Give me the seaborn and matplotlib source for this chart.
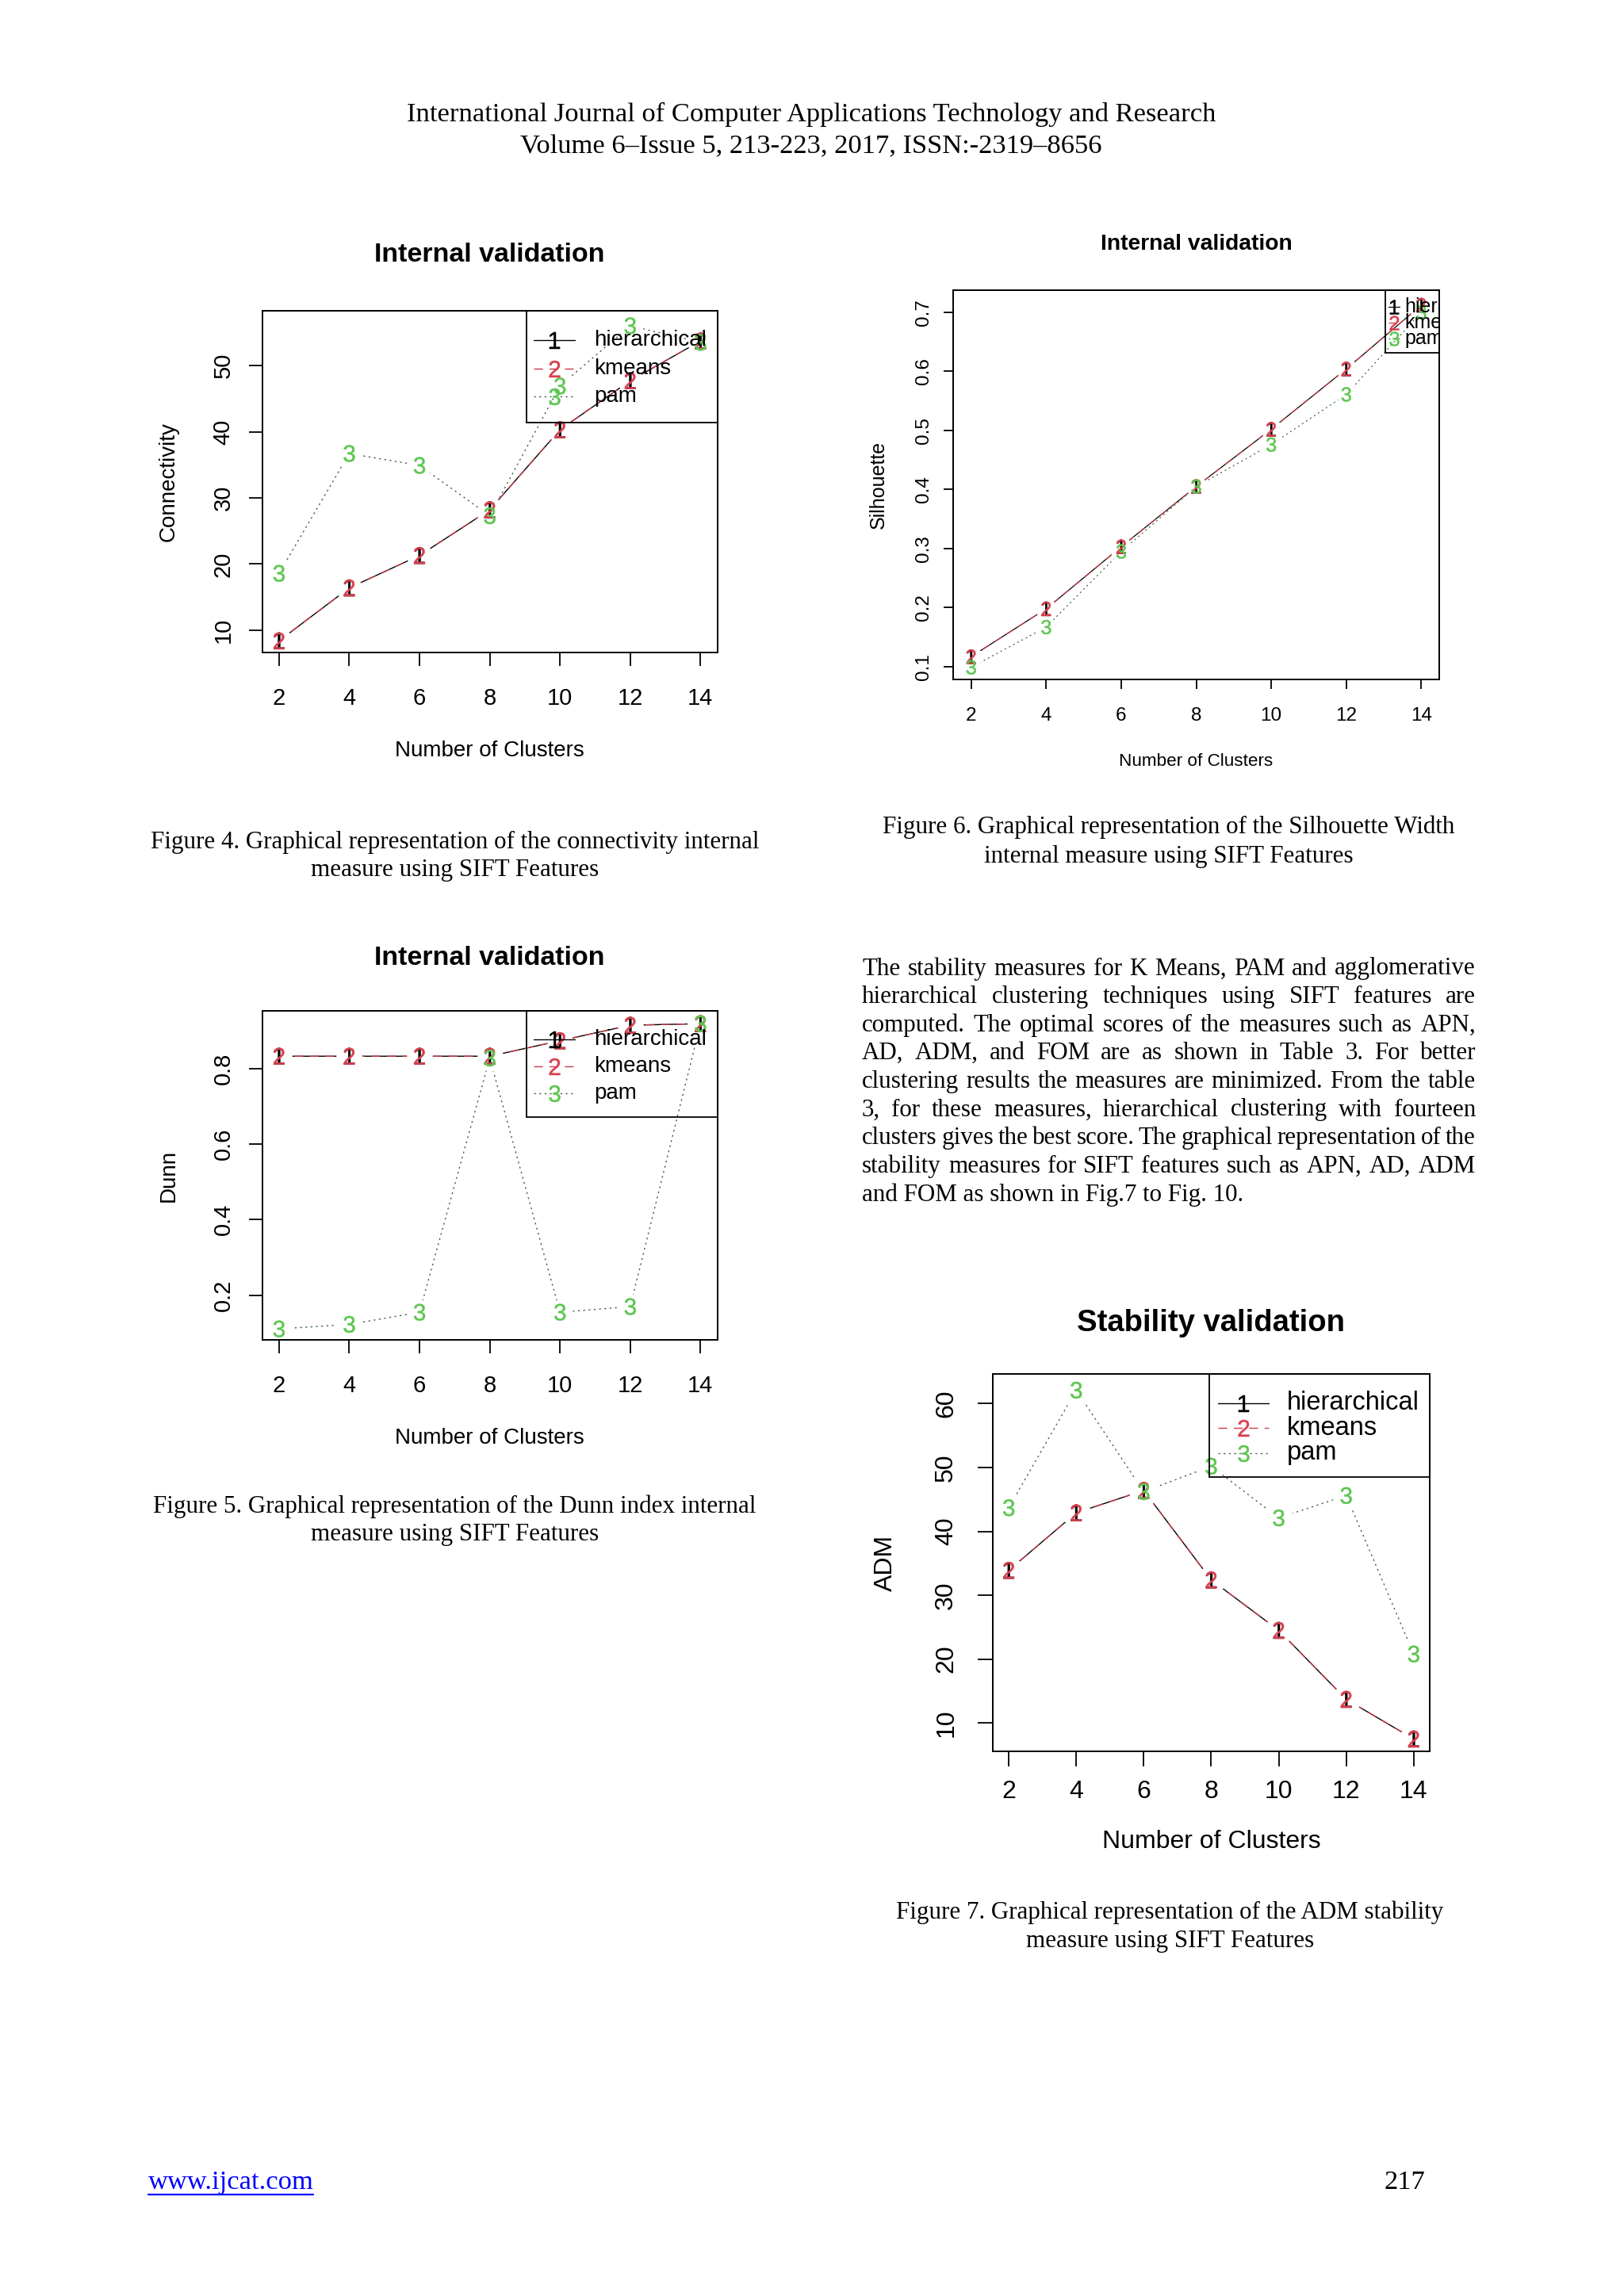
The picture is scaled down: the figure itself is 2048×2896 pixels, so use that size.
import numpy as np
import pandas as pd
import matplotlib
matplotlib.use("Agg")
import matplotlib.pyplot as plt
import matplotlib.transforms as mtransforms
from matplotlib.patches import Rectangle
from matplotlib.lines import Line2D
import seaborn as sns

# ------------------------------------------------------------------ data
clusters = [2, 4, 6, 8, 10, 12, 14]
methods = ["hierarchical", "kmeans", "pam"]
method_digits = ["1", "2", "3"]
x_ticks = [2, 4, 6, 8, 10, 12, 14]
x_tick_labels = ["2", "4", "6", "8", "10", "12", "14"]

connectivity_hierarchical = [8.4, 16.4, 21.3, 28.2, 40.3, 47.7, 53.7]
connectivity_kmeans = [8.4, 16.4, 21.3, 28.2, 40.3, 47.7, 53.7]
connectivity_pam = [18.6, 36.7, 34.9, 27.3, 46.9, 56.0, 53.5]
connectivity_ticks = [10, 20, 30, 40, 50]
connectivity_tick_labels = ["10", "20", "30", "40", "50"]

silhouette_hierarchical = [0.117, 0.198, 0.303, 0.405, 0.502, 0.604, 0.712]
silhouette_kmeans = [0.117, 0.198, 0.303, 0.405, 0.502, 0.604, 0.712]
silhouette_pam = [0.099, 0.167, 0.295, 0.405, 0.476, 0.561, 0.700]
silhouette_ticks = [0.1, 0.2, 0.3, 0.4, 0.5, 0.6, 0.7]
silhouette_tick_labels = ["0.1", "0.2", "0.3", "0.4", "0.5", "0.6", "0.7"]

dunn_hierarchical = [0.832, 0.832, 0.832, 0.832, 0.873, 0.914, 0.918]
dunn_kmeans = [0.832, 0.832, 0.832, 0.832, 0.873, 0.914, 0.918]
dunn_pam = [0.111, 0.123, 0.155, 0.827, 0.155, 0.170, 0.918]
dunn_ticks = [0.2, 0.4, 0.6, 0.8]
dunn_tick_labels = ["0.2", "0.4", "0.6", "0.8"]

adm_hierarchical = [33.9, 42.9, 46.4, 32.4, 24.5, 13.7, 7.5]
adm_kmeans = [33.9, 42.9, 46.4, 32.4, 24.5, 13.7, 7.5]
adm_pam = [43.7, 62.1, 46.2, 50.2, 42.1, 45.6, 20.8]
adm_ticks = [10, 20, 30, 40, 50, 60]
adm_tick_labels = ["10", "20", "30", "40", "50", "60"]

header_lines = [
    "International Journal of Computer Applications Technology and Research",
    "Volume 6\u2013Issue 5, 213-223, 2017, ISSN:-2319\u20138656",
]
caption_fig4 = ["Figure 4. Graphical representation of the connectivity internal",
                "measure using SIFT Features"]
caption_fig6 = ["Figure 6. Graphical representation of the Silhouette Width",
                "internal measure using SIFT Features"]
caption_fig5 = ["Figure 5. Graphical representation of the Dunn index internal",
                "measure using SIFT Features"]
caption_fig7 = ["Figure 7. Graphical representation of the ADM stability",
                "measure using SIFT Features"]
paragraph_lines = [
    "The stability measures for K Means, PAM and agglomerative",
    "hierarchical clustering techniques using SIFT features are",
    "computed. The optimal scores of the measures such as APN,",
    "AD, ADM, and FOM are as shown in Table 3. For better",
    "clustering results the measures are minimized. From the table",
    "3, for these measures, hierarchical clustering with fourteen",
    "clusters gives the best score. The graphical representation of the",
    "stability measures for SIFT features such as APN, AD, ADM",
    "and FOM as shown in Fig.7 to Fig. 10.",
]
footer_link = "www.ijcat.com"
footer_page = "217"

# ------------------------------------------------------------------ style
W, H, DPI = 2048, 2896, 100
SANS = ["Liberation Sans", "DejaVu Sans"]
SERIF = ["Liberation Serif", "DejaVu Serif"]

sns.set_theme(style="ticks")
plt.rcParams["font.family"] = SANS
plt.rcParams["mathtext.fontset"] = "custom"
plt.rcParams["mathtext.rm"] = "Liberation Sans"
plt.rcParams["mathtext.it"] = "Liberation Sans:italic"
plt.rcParams["mathtext.bf"] = "Liberation Sans:bold"
plt.rcParams["mathtext.sf"] = "Liberation Sans"

LINE_COLORS = {"hierarchical": "#000000", "kmeans": "#C83A48", "pam": "#3F663F"}
MARK_COLORS = {"hierarchical": "#000000", "kmeans": "#D8404F", "pam": "#5DC651"}
DASHES = {"hierarchical": "", "kmeans": (8, 6), "pam": (1.6, 3.2)}
MARKERS = {m: f"${d}$" for m, d in zip(methods, method_digits)}

fig = plt.figure(figsize=(W / DPI, H / DPI), dpi=DPI, facecolor="white")
# pixel coordinates, origin top-left
PX = mtransforms.Affine2D().scale(1 / W, -1 / H).translate(0, 1) + fig.transFigure
P2PT = 72 / DPI


def draw_panel(p):
    l, t, r, b = p["box"]
    ax = fig.add_axes([l / W, 1 - b / H, (r - l) / W, (b - t) / H])
    ax.set_facecolor("white")
    df = pd.DataFrame({
        "clusters": clusters * 3,
        "value": list(p["series"][0]) + list(p["series"][1]) + list(p["series"][2]),
        "method": [m for m in methods for _ in clusters],
    })
    sns.lineplot(data=df, x="clusters", y="value", hue="method", style="method",
                 palette=LINE_COLORS, dashes=DASHES, linewidth=p["lw"],
                 errorbar=None, legend=False, ax=ax, zorder=2)
    # R type="b": small gaps in the lines around the points
    sns.scatterplot(data=df, x="clusters", y="value", color="white",
                    s=(2 * p["gap"] * P2PT) ** 2, linewidth=0, legend=False,
                    ax=ax, zorder=2.2)
    sns.scatterplot(data=df, x="clusters", y="value", hue="method", style="method",
                    palette=MARK_COLORS, markers=MARKERS, s=(p["ms"] * P2PT) ** 2,
                    linewidth=0.35, edgecolor="face", legend=False, ax=ax, zorder=3)
    ax.set_xlim(1.52, 14.48)
    ax.set_ylim(*p["ylim"])
    ax.set_xticks(x_ticks, labels=x_tick_labels)
    ax.set_yticks(p["yticks"], labels=p["yticklabels"])
    for s in ax.spines.values():
        s.set_visible(True)
        s.set_color("black")
        s.set_linewidth(1.4)
        s.set_zorder(2.5)
    fs = p["fs"]
    em = fs / P2PT
    tl = p["tick_len"]
    pad_x = p["xtick_y"] - 0.358 * em - (b + tl)
    pad_y = (l - tl) - (p["ytick_x"] + 0.568 * em)
    ax.tick_params(axis="both", direction="out", length=tl * P2PT, width=1.3,
                   color="black", labelcolor="black", labelsize=fs,
                   bottom=True, left=True, top=False, right=False)
    ax.tick_params(axis="x", pad=pad_x * P2PT)
    ax.tick_params(axis="y", pad=pad_y * P2PT)
    for lab in ax.get_yticklabels():
        lab.set_rotation(90)
        lab.set_va("center")
    ax.grid(False)
    # axis labels
    ax.set_xlabel("Number of Clusters", fontsize=p["lab_fs"], color="black")
    ax.set_ylabel(p["ylabel"], fontsize=p["ylab_fs"], color="black")
    ax.xaxis.set_label_coords(*p["xlabel_xy"], transform=PX)
    ax.yaxis.set_label_coords(*p["ylabel_xy"], transform=PX)
    ax.xaxis.label.set_va("center")
    ax.yaxis.label.set_va("center")
    ax.yaxis.label.set_ha("center")
    # title
    ty = (b - p["title_xy"][1]) / (b - t)
    ax.set_title(p["title"], fontsize=p["title_fs"], fontweight="bold",
                 y=ty, pad=0, va="center", color="black")
    draw_legend(ax, p["legend"], p["lw"], p["ms"])
    return ax


def draw_legend(ax, spec, lw, ms):
    x0, y0, x1, y1 = spec["box"]
    rect = Rectangle((x0, y0), x1 - x0, y1 - y0, transform=PX, fill=False,
                     edgecolor="black", linewidth=1.3, zorder=5)
    fig.add_artist(rect)
    arts = [rect]
    lx0, lx1 = spec["line"]
    for m, d, ry in zip(methods, method_digits, spec["rows"]):
        ln = Line2D([lx0, lx1], [ry, ry], transform=PX, color=LINE_COLORS[m],
                    linewidth=lw, zorder=5)
        if DASHES[m]:
            ln.set_dashes(DASHES[m])
        mk = Line2D([(lx0 + lx1) / 2], [ry], transform=PX, linestyle="none",
                    marker=f"${d}$", markersize=ms * P2PT, color=MARK_COLORS[m],
                    markeredgewidth=0.35, zorder=6)
        fig.add_artist(ln)
        fig.add_artist(mk)
        tx = fig.text(spec["text_x"], ry, m, transform=PX, ha="left", va="center",
                      fontsize=spec["fs"], color="black", zorder=6, family=SANS)
        arts += [ln, mk, tx]
    if spec.get("clip"):
        for a in arts:
            a.set_clip_box(ax.bbox)
            a.set_clip_on(True)


panels = [
    dict(series=(connectivity_hierarchical, connectivity_kmeans, connectivity_pam),
         box=(330.6, 391.7, 904.6, 823.3), ylim=(6.61, 58.3),
         yticks=connectivity_ticks, yticklabels=connectivity_tick_labels,
         title="Internal validation", title_xy=(617.6, 321), title_fs=24.5,
         ylabel="Connectivity", ylabel_xy=(213, 607.5), xlabel_xy=(617.6, 947),
         fs=21, lab_fs=20, ylab_fs=20, tick_len=17, xtick_y=877, ytick_x=279,
         lw=1.0, ms=21, gap=16,
         legend=dict(box=(664, 391.7, 904.6, 532.6), rows=(429, 465, 500),
                     line=(673, 725), text_x=749, fs=20)),
    dict(series=(silhouette_hierarchical, silhouette_kmeans, silhouette_pam),
         box=(1202, 365.6, 1815, 857), ylim=(0.0784, 0.738),
         yticks=silhouette_ticks, yticklabels=silhouette_tick_labels,
         title="Internal validation", title_xy=(1508.5, 308), title_fs=20.3,
         ylabel="Silhouette", ylabel_xy=(1108, 611), xlabel_xy=(1508.5, 960),
         fs=17.5, lab_fs=16.2, ylab_fs=18, tick_len=12, xtick_y=901, ytick_x=1162,
         lw=0.9, ms=18, gap=13,
         legend=dict(box=(1747, 365.6, 1840, 445), rows=(387, 407, 427),
                     line=(1751, 1765), text_x=1771, fs=18, clip=True)),
    dict(series=(dunn_hierarchical, dunn_kmeans, dunn_pam),
         box=(330.6, 1275, 904.6, 1690), ylim=(0.082, 0.952),
         yticks=dunn_ticks, yticklabels=dunn_tick_labels,
         title="Internal validation", title_xy=(617.6, 1208), title_fs=24.5,
         ylabel="Dunn", ylabel_xy=(213, 1482.5), xlabel_xy=(617.6, 1814),
         fs=21, lab_fs=20, ylab_fs=20, tick_len=17, xtick_y=1744, ytick_x=279,
         lw=1.0, ms=21, gap=16,
         legend=dict(box=(664, 1275, 904.6, 1409), rows=(1311, 1345, 1379),
                     line=(673, 725), text_x=749, fs=20)),
    dict(series=(adm_hierarchical, adm_kmeans, adm_pam),
         box=(1251.7, 1733.3, 1803.2, 2208.8), ylim=(5.59, 64.6),
         yticks=adm_ticks, yticklabels=adm_tick_labels,
         title="Stability validation", title_xy=(1527.5, 1669), title_fs=27.5,
         ylabel="ADM", ylabel_xy=(1116.7, 1971), xlabel_xy=(1527.5, 2323),
         fs=23, lab_fs=23, ylab_fs=23, tick_len=19, xtick_y=2256.7, ytick_x=1190,
         lw=1.0, ms=21, gap=18,
         legend=dict(box=(1525, 1733.3, 1803.2, 1862.6), rows=(1769.8, 1801.3, 1832.9),
                     line=(1535.6, 1600), text_x=1623, fs=23.5)),
]

for p in panels:
    draw_panel(p)

# ------------------------------------------------------------------ page text
HEAD_FS = 24.8
BODY_FS = 22.3


def page_text(x, y, s, size, ha="center", color="black"):
    return fig.text(x, y, s, transform=PX, ha=ha, va="center", fontsize=size,
                    family=SERIF, color=color)


page_text(1023, 144, header_lines[0], HEAD_FS)
page_text(1023, 185, header_lines[1], HEAD_FS)

for lines, cx, ys in [(caption_fig4, 573.4, (1062, 1097)),
                      (caption_fig6, 1473.7, (1043.4, 1080.3)),
                      (caption_fig5, 573.4, (1900, 1935)),
                      (caption_fig7, 1475.5, (2411.8, 2448.7))]:
    for s, y in zip(lines, ys):
        page_text(cx, y, s, BODY_FS)

renderer = fig.canvas.get_renderer()


def text_width(s, size):
    t = fig.text(0, 0, s, fontsize=size, family=SERIF)
    w = t.get_window_extent(renderer=renderer).width
    t.remove()
    return w


PARA_LEFT, PARA_RIGHT = 1087, 1861
PARA_TOP, PARA_STEP = 1222, 35.6
for i, line in enumerate(paragraph_lines):
    y = PARA_TOP + i * PARA_STEP
    words = line.split()
    if i == len(paragraph_lines) - 1:
        page_text(PARA_LEFT, y, line, BODY_FS, ha="left")
        continue
    widths = [text_width(w, BODY_FS) for w in words]
    gap = (PARA_RIGHT - PARA_LEFT - sum(widths)) / (len(words) - 1)
    x = PARA_LEFT
    for w, wd in zip(words, widths):
        page_text(x, y, w, BODY_FS, ha="left")
        x += wd + gap

link = page_text(186.5, 2753, footer_link, HEAD_FS, ha="left", color="#0000FF")
lw_link = text_width(footer_link, HEAD_FS)
fig.add_artist(Line2D([186.5, 186.5 + lw_link], [2768, 2768], transform=PX,
                      color="#0000FF", linewidth=1.6))
page_text(1797, 2753, footer_page, HEAD_FS, ha="right")

fig.savefig("out.png", dpi=DPI, facecolor="white")
